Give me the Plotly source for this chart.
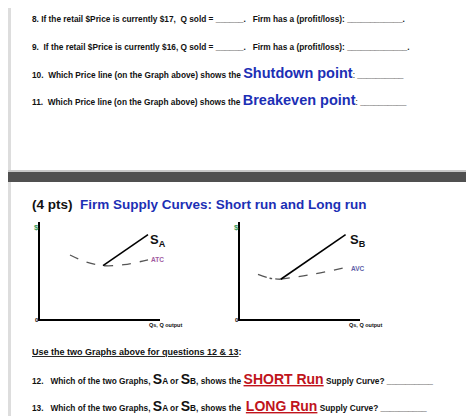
import plotly.graph_objects as go

W, H = 474, 416
# Graph A data (price vs quantity, 0-100 units)
atc_x = [25, 38, 52.5, 70, 90]
atc_y = [66, 59, 55, 56, 61]
sa_x = [52.5, 90]
sa_y = [55, 87]
# Graph B data
avc_x1 = [15, 25, 34]
avc_y1 = [46, 42, 41]
avc_x2 = [34, 60, 88]
avc_y2 = [41, 46, 53]
sb_x = [34, 88]
sb_y = [41, 87]

FONT = "Liberation Sans, Arial, sans-serif"
BLUE = "#1c2fb5"
RED = "#c0141c"

fig = go.Figure()
axA = dict(xaxis="x", yaxis="y")
axB = dict(xaxis="x2", yaxis="y2")
fig.add_trace(go.Scatter(x=atc_x, y=atc_y, mode="lines", line=dict(color="#555", width=1.3, dash="dash", shape="spline"), **axA))
fig.add_trace(go.Scatter(x=sa_x, y=sa_y, mode="lines", line=dict(color="#000", width=1.6), **axA))
fig.add_trace(go.Scatter(x=avc_x1, y=avc_y1, mode="lines", line=dict(color="#555", width=1.3, dash="dashdot", shape="spline"), **axB))
fig.add_trace(go.Scatter(x=avc_x2, y=avc_y2, mode="lines", line=dict(color="#555", width=1.3, dash="dash", shape="spline"), **axB))
fig.add_trace(go.Scatter(x=sb_x, y=sb_y, mode="lines", line=dict(color="#000", width=1.6), **axB))

def px(x): return x / W
def py(y): return 1 - y / H

axcommon = dict(range=[0, 100], showgrid=False, zeroline=False, showticklabels=False,
                showline=True, linecolor="#000", linewidth=2, fixedrange=True)
fig.update_layout(
    width=W, height=H, margin=dict(l=0, r=0, t=0, b=0),
    paper_bgcolor="white", plot_bgcolor="rgba(0,0,0,0)", showlegend=False,
    xaxis=dict(domain=[px(32), px(152)], anchor="y", **axcommon),
    yaxis=dict(domain=[py(311), py(214)], anchor="x", **axcommon),
    xaxis2=dict(domain=[px(232), px(352)], anchor="y2", **axcommon),
    yaxis2=dict(domain=[py(311), py(214)], anchor="x2", **axcommon),
    font=dict(family=FONT),
)

shapes = [
    dict(type="rect", xref="paper", yref="paper", x0=0, x1=px(3), y0=py(416), y1=py(0), fillcolor="#ddd", line_width=0),
    dict(type="rect", xref="paper", yref="paper", x0=0, x1=1, y0=py(174), y1=py(164), fillcolor="#505050", line_width=0),
    dict(type="rect", xref="paper", yref="paper", x0=0, x1=1, y0=py(164), y1=py(162), fillcolor="#c8c8c8", line_width=0),
    dict(type="rect", xref="paper", yref="paper", x0=0, x1=1, y0=py(416), y1=py(412), fillcolor="#e0e0e0", line_width=0),
]
fig.update_layout(shapes=shapes)

anns = []
def T(x, y, text, size=9, color="#111", anchor="left"):
    anns.append(dict(xref="paper", yref="paper", x=px(x), y=py(y), text=text, showarrow=False,
                     xanchor=anchor, yanchor="middle", font=dict(size=size, color=color, family=FONT)))

T(22, 11, "<b>8. If the retail $Price is currently $17,  Q sold = ______.   Firm has a (profit/loss): ____________.</b>", 8.3)
T(22, 39, "<b>9.  If the retail $Price is currently $16, Q sold = ______.   Firm has a (profit/loss): _____________.</b>", 8.3)
T(22, 65, f"<b>10.  Which Price line (on the Graph above) shows the</b> <span style='font-size:14.5px;color:{BLUE}'><b>Shutdown point</b></span>: <b>__________</b>", 8.3)
T(22, 92, f"<b>11.  Which Price line (on the Graph above) shows the</b> <span style='font-size:14.5px;color:{BLUE}'><b>Breakeven point</b></span>: <b>__________</b>", 8.3)
T(22, 196, f"<b>(4 pts)  <span style='color:{BLUE}'>Firm Supply Curves: Short run and Long run</span></b>", 13.5, "#111")
T(24, 219, "<b>$</b>", 8, "#3a9a5a")
T(224, 219, "<b>$</b>", 8, "#3a9a5a")
T(25, 312, "<b>0</b>", 6)
T(225, 312, "<b>0</b>", 6)
T(139, 317, "<b>Qs, Q output</b>", 5.5)
T(339, 317, "<b>Qs, Q output</b>", 5.5)
T(140, 232, "<b>S</b><sub><b>A</b></sub>", 13, "#111")
T(340, 232, "<b>S</b><sub><b>B</b></sub>", 13, "#111")
T(141, 252, "<b>ATC</b>", 6.5, "#a05aa0")
T(341, 260, "<b>AVC</b>", 6.5, "#6060a8")
T(22, 344, "<b><u>Use the two Graphs above for questions 12 &amp; 13</u>:</b>", 9)
T(22, 371, f"<b>12.   Which of the two Graphs, <span style='font-size:14px'>S</span>A or <span style='font-size:14px'>S</span>B, shows the</b> <span style='font-size:14px;color:{RED}'><b><u>SHORT Run</u></b></span> <b>Supply Curve? __________</b>", 8.3)
T(22, 398, f"<b>13.   Which of the two Graphs, <span style='font-size:14px'>S</span>A or <span style='font-size:14px'>S</span>B, shows the</b>  <span style='font-size:14px;color:{RED}'><b><u>LONG Run</u></b></span> <b>Supply Curve? __________</b>", 8.3)
fig.update_layout(annotations=anns)

fig.write_html("out.html")
